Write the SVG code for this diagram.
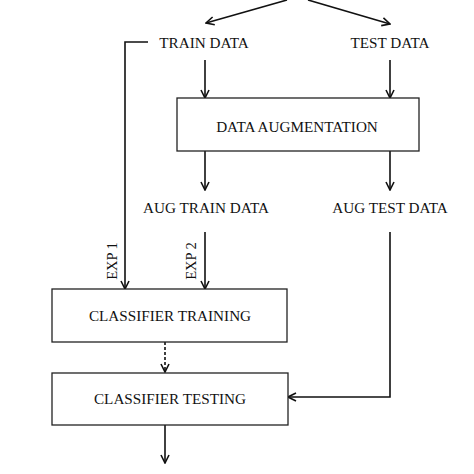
<svg xmlns="http://www.w3.org/2000/svg" width="474" height="474" viewBox="0 0 474 474">
<style>
text{font-family:"Liberation Serif","Times New Roman",serif;font-size:15.2px;fill:#111;text-anchor:middle}
.box{fill:#fff;stroke:#222;stroke-width:1.3}
.ln{fill:none;stroke:#111;stroke-width:1.6}
</style>
<defs>
<marker id="ah" viewBox="0 0 10 10" refX="9" refY="5" markerWidth="10" markerHeight="10" markerUnits="userSpaceOnUse" orient="auto">
<path d="M1,1 L9,5 L1,9" fill="none" stroke="#111" stroke-width="1.6"/>
</marker>
</defs>
<rect width="474" height="474" fill="#fff"/>
<g id="connectors">
<line class="ln" x1="287" y1="0" x2="206" y2="23" marker-end="url(#ah)"/>
<line class="ln" x1="308" y1="0" x2="390" y2="24" marker-end="url(#ah)"/>
<polyline class="ln" points="148,42 125,42 125,289" marker-end="url(#ah)"/>
<line class="ln" x1="205" y1="60" x2="205" y2="98" marker-end="url(#ah)"/>
<line class="ln" x1="390" y1="60" x2="390" y2="98" marker-end="url(#ah)"/>
<line class="ln" x1="205" y1="151" x2="205" y2="190" marker-end="url(#ah)"/>
<line class="ln" x1="390" y1="151" x2="390" y2="190" marker-end="url(#ah)"/>
<line class="ln" x1="205" y1="232" x2="205" y2="289" marker-end="url(#ah)"/>
<polyline class="ln" points="390,232 390,397 288,397" marker-end="url(#ah)"/>
<line class="ln" x1="165" y1="342" x2="165" y2="372" stroke-dasharray="3,2" marker-end="url(#ah)"/>
<line class="ln" x1="165" y1="425" x2="165" y2="463" marker-end="url(#ah)"/>
<text transform="translate(117,261) rotate(-90)" style="font-size:14.5px">EXP 1</text>
<text transform="translate(196,261) rotate(-90)" style="font-size:14.5px">EXP 2</text>
</g>
<g id="train-data"><text x="204" y="48">TRAIN DATA</text></g>
<g id="test-data"><text x="390" y="48">TEST DATA</text></g>
<g id="data-augmentation">
<rect class="box" x="177" y="98" width="242" height="53"/>
<text x="297" y="132">DATA AUGMENTATION</text>
</g>
<g id="aug-train-data"><text x="206" y="213">AUG TRAIN DATA</text></g>
<g id="aug-test-data"><text x="390" y="213">AUG TEST DATA</text></g>
<g id="classifier-training">
<rect class="box" x="52" y="289" width="235" height="53"/>
<text x="170" y="321">CLASSIFIER TRAINING</text>
</g>
<g id="classifier-testing">
<rect class="box" x="52" y="373" width="236" height="52"/>
<text x="170" y="404">CLASSIFIER TESTING</text>
</g>
</svg>
